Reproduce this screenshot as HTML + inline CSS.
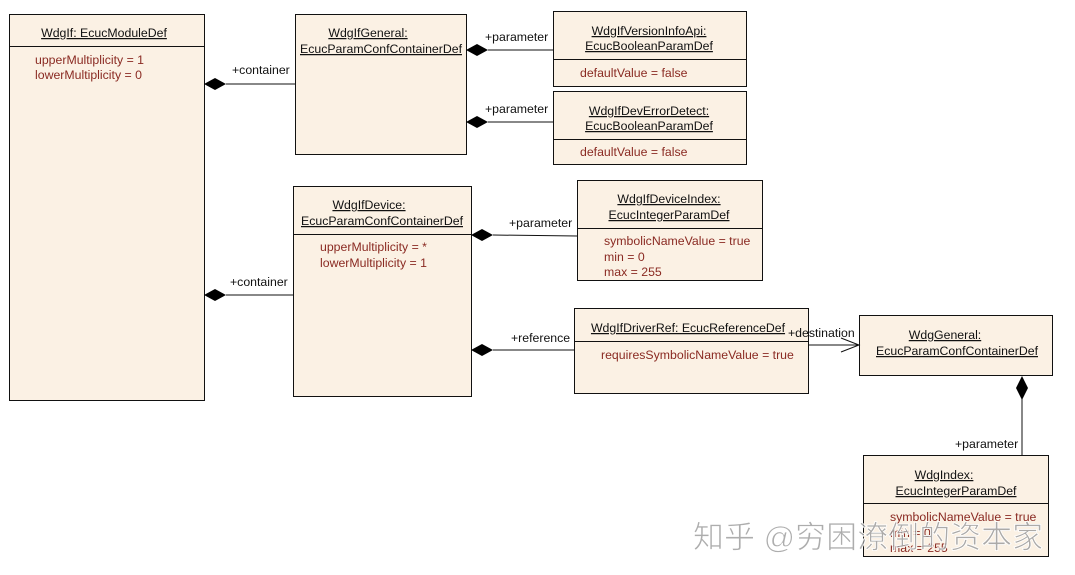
<!DOCTYPE html>
<html><head><meta charset="utf-8"><style>
html,body{margin:0;padding:0;background:#fff;}
svg{display:block;}
text{font-family:"Liberation Sans","Noto Sans CJK SC",sans-serif;font-size:12.3px;}
.t{fill:#111;text-anchor:middle;text-decoration:underline;}
.a{fill:#8a2a22;}
.l{fill:#111;}
rect{fill:#fbf1e4;stroke:#111;stroke-width:1;}
line{stroke:#111;stroke-width:1;}
</style></head><body>
<svg width="1075" height="575" viewBox="0 0 1075 575">
<rect x="9.5" y="14.5" width="195" height="386"/>
<line x1="9.5" y1="46.5" x2="204.5" y2="46.5"/>
<text class="t" x="104" y="37">WdgIf: EcucModuleDef</text>
<text class="a" x="35" y="64">upperMultiplicity = 1</text>
<text class="a" x="35" y="79">lowerMultiplicity = 0</text>

<rect x="295.5" y="14.5" width="171" height="140"/>
<text class="t" x="368" y="37">WdgIfGeneral:</text>
<text class="t" x="381" y="53">EcucParamConfContainerDef</text>

<rect x="553.5" y="11.5" width="193" height="75"/>
<line x1="553.5" y1="59.5" x2="746.5" y2="59.5"/>
<text class="t" x="649" y="35">WdgIfVersionInfoApi:</text>
<text class="t" x="649" y="50">EcucBooleanParamDef</text>
<text class="a" x="580" y="77">defaultValue = false</text>

<rect x="553.5" y="91.5" width="193" height="73"/>
<line x1="553.5" y1="139.5" x2="746.5" y2="139.5"/>
<text class="t" x="649" y="115">WdgIfDevErrorDetect:</text>
<text class="t" x="649" y="130">EcucBooleanParamDef</text>
<text class="a" x="580" y="156">defaultValue = false</text>

<rect x="293.5" y="186.5" width="178" height="210"/>
<line x1="293.5" y1="234.5" x2="471.5" y2="234.5"/>
<text class="t" x="369" y="209">WdgIfDevice:</text>
<text class="t" x="382" y="225">EcucParamConfContainerDef</text>
<text class="a" x="320" y="251">upperMultiplicity = *</text>
<text class="a" x="320" y="267">lowerMultiplicity = 1</text>

<rect x="577.5" y="180.5" width="185" height="100"/>
<line x1="577.5" y1="228.5" x2="762.5" y2="228.5"/>
<text class="t" x="669" y="203">WdgIfDeviceIndex:</text>
<text class="t" x="669" y="219">EcucIntegerParamDef</text>
<text class="a" x="604" y="245">symbolicNameValue = true</text>
<text class="a" x="604" y="261">min = 0</text>
<text class="a" x="604" y="276">max = 255</text>

<rect x="574.5" y="308.5" width="234" height="85"/>
<line x1="574.5" y1="341.5" x2="808.5" y2="341.5"/>
<text class="t" x="688" y="332">WdgIfDriverRef: EcucReferenceDef</text>
<text class="a" x="601" y="359">requiresSymbolicNameValue = true</text>

<rect x="859.5" y="315.5" width="193" height="60"/>
<text class="t" x="945" y="339">WdgGeneral:</text>
<text class="t" x="957" y="355">EcucParamConfContainerDef</text>

<rect x="863.5" y="455.5" width="185" height="101"/>
<line x1="863.5" y1="503.5" x2="1048.5" y2="503.5"/>
<text class="t" x="944" y="479">WdgIndex:</text>
<text class="t" x="956" y="495">EcucIntegerParamDef</text>
<text class="a" x="890" y="521">symbolicNameValue = true</text>
<text class="a" x="890" y="537">min = 0</text>
<text class="a" x="890" y="552">max = 255</text>

<line x1="226" y1="84" x2="295" y2="84"/>
<polygon points="204,84 215,78 226,84 215,90" fill="#000"/>
<text class="l" x="232" y="74">+container</text>

<line x1="488" y1="50" x2="553" y2="50"/>
<polygon points="466,50 477,44 488,50 477,56" fill="#000"/>
<text class="l" x="485" y="41">+parameter</text>

<line x1="488" y1="122" x2="553" y2="122"/>
<polygon points="466,122 477,116 488,122 477,128" fill="#000"/>
<text class="l" x="485" y="113">+parameter</text>

<line x1="226" y1="295" x2="293" y2="295"/>
<polygon points="204,295 215,289 226,295 215,301" fill="#000"/>
<text class="l" x="230" y="286">+container</text>

<line x1="493" y1="235" x2="577" y2="236"/>
<polygon points="471,235 482,229 493,235 482,241" fill="#000"/>
<text class="l" x="509" y="227">+parameter</text>

<line x1="493" y1="350" x2="574" y2="350"/>
<polygon points="471,350 482,344 493,350 482,356" fill="#000"/>
<text class="l" x="511" y="342">+reference</text>

<line x1="808" y1="345" x2="859" y2="345"/>
<polyline points="841,338 859,345 841,352" fill="none" stroke="#111"/>
<text class="l" x="788" y="337">+destination</text>

<line x1="1022" y1="399" x2="1022" y2="455"/>
<polygon points="1022,376 1028,388 1022,400 1016,388" fill="#000"/>
<text class="l" x="955" y="448">+parameter</text>

<text x="693" y="548" style="font-size:31px;fill:#999;fill-opacity:0.8;stroke:#fff;stroke-width:0.8px;font-family:'Liberation Sans','Noto Sans CJK SC',sans-serif;">知乎 @穷困潦倒的资本家</text>
</svg>
</body></html>
